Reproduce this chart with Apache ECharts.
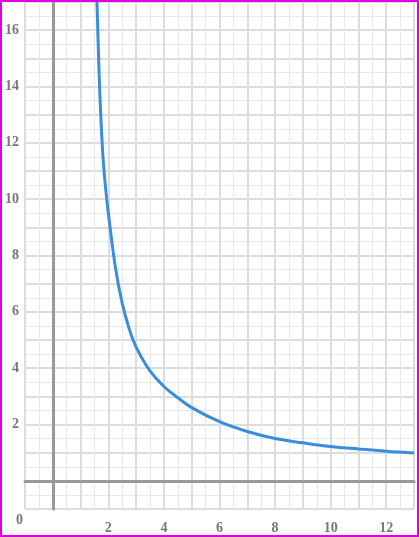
<!DOCTYPE html><html><head><meta charset="utf-8"><script src="https://cdn.jsdelivr.net/npm/echarts@6/dist/echarts.min.js"></script>
<style>html,body{margin:0;padding:0;background:#fff}#c{width:419px;height:537px;box-sizing:border-box;border:2px solid #e000e8}</style></head><body><div id="c"></div><script>
const xs=[1.59,1.65,1.7,1.8,1.9,2,2.25,2.5,2.75,3,3.5,4,4.5,5,6,7,8,9,10,11,12,13];
const ys=[17,15,13.6,11.6,10.4,9.5,7.6,6.3,5.4,4.75,3.9,3.35,2.95,2.6,2.1,1.75,1.5,1.35,1.22,1.13,1.05,0.99];
const xTicks=[2,4,6,8,10,12];
const yTicks=[2,4,6,8,10,12,14,16];
const c=echarts.init(document.getElementById('c'));
const lab={color:'#777',fontFamily:'Liberation Serif',fontWeight:'bold',fontSize:14};
c.setOption({animation:false,
grid:{left:2,right:2,top:0,bottom:2},
xAxis:{type:'value',min:-1,max:13,interval:1,
 axisLine:{onZero:true,lineStyle:{color:'#999',width:3}},axisTick:{show:false},
 axisLabel:Object.assign({},lab,{margin:12,formatter:v=>xTicks.includes(v)?String(v):''}),
 splitLine:{lineStyle:{color:'#dcdcdc',width:2}},minorTick:{show:false,splitNumber:2},minorSplitLine:{show:true,lineStyle:{color:'#e8e8e8',width:1}}},
yAxis:{type:'value',min:-1,max:17,interval:1,
 axisLine:{onZero:true,lineStyle:{color:'#999',width:3}},axisTick:{show:false},
 axisLabel:Object.assign({},lab,{margin:6,formatter:v=>yTicks.includes(v)?String(v):''}),
 splitLine:{lineStyle:{color:'#dcdcdc',width:2}},minorTick:{show:false,splitNumber:2},minorSplitLine:{show:true,lineStyle:{color:'#e8e8e8',width:1}}},
graphic:[{type:'text',left:14,top:511,style:{text:'0',fill:'#777',font:'bold 14px "Liberation Serif"'}}],
series:[{type:'line',data:xs.map((x,i)=>[x,ys[i]]),smooth:0.4,showSymbol:false,clip:true,lineStyle:{color:'#3a8ddd',width:3}}]});
</script></body></html>
